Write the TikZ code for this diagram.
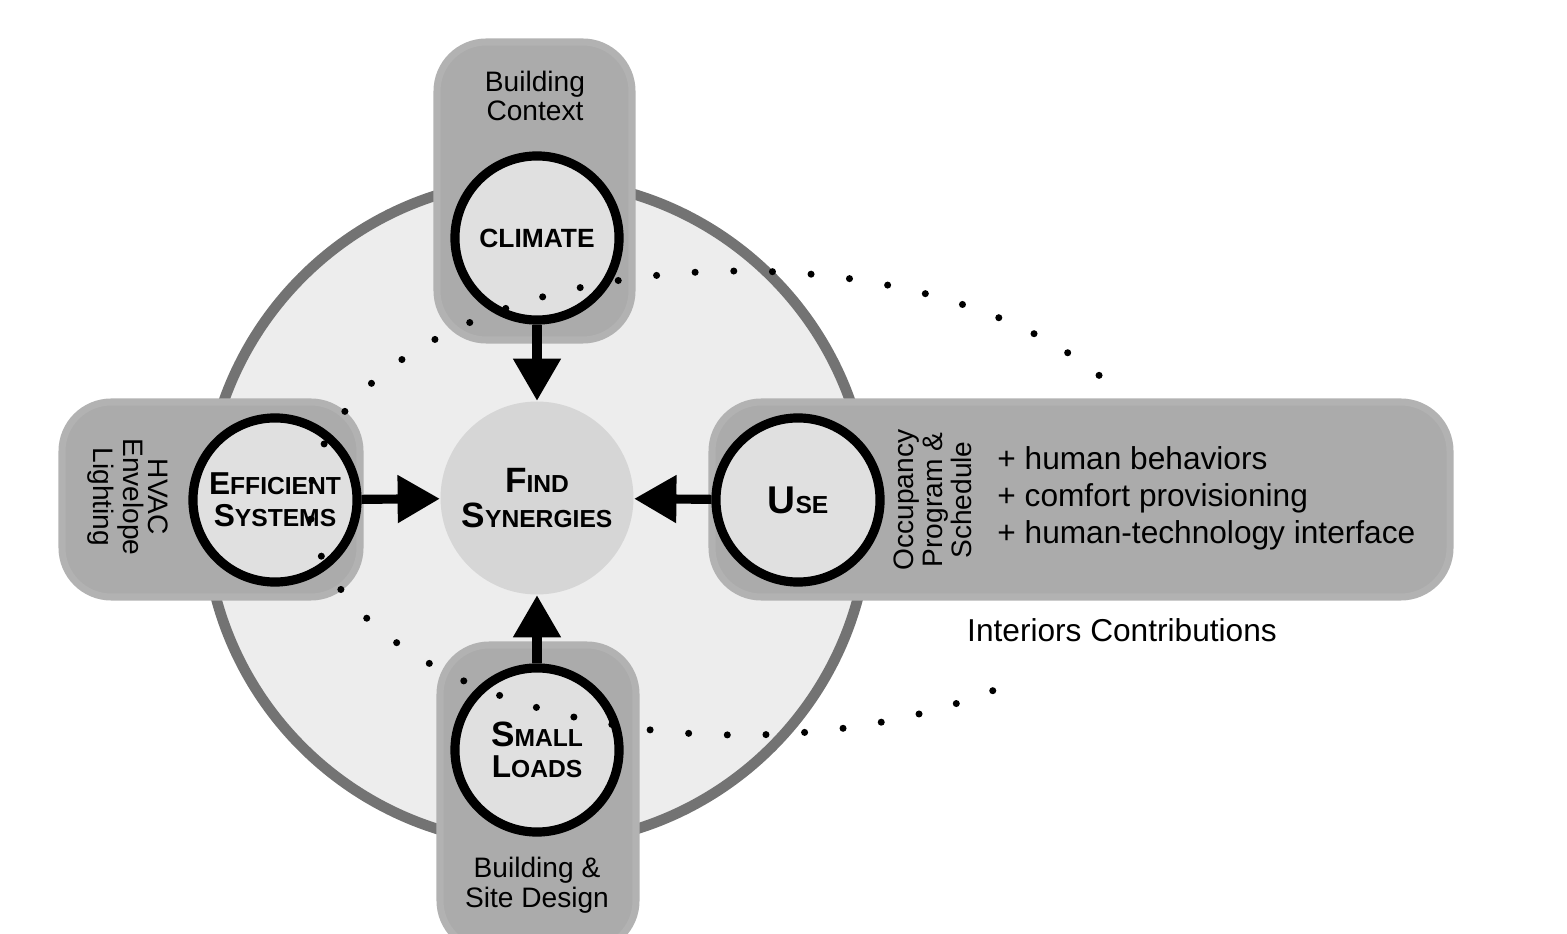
\documentclass[tikz,border=0pt]{standalone}
\usepackage{fontspec}
\setmainfont{Liberation Sans}
\usetikzlibrary{arrows.meta}
\newcommand{\fsc}[2]{#1{\fontsize{7}{7}\selectfont#2}}
\begin{document}
\begin{tikzpicture}[x=0.01cm, y=-0.01cm,
        panel/.style={draw=black!30, line width=2pt, fill=black!33, rounded corners=14pt},
        topic/.style={circle, draw=black, line width=2.6pt, fill=black!12, minimum size=1.64cm, inner sep=0pt, align=center, font=\fontsize{9}{9}\selectfont\bfseries},
        tag/.style={align=center, font=\fontsize{8}{7}\selectfont},
        flow/.style={-{Triangle[length=12pt, width=13pt]}, line width=2.6pt}
      ]
      \useasboundingbox (0,0) rectangle (1567,934);

      \node (ring) [circle, draw=black!55, line width=3pt, fill=black!7, minimum size=6.64cm] at (537,512) {};

      \draw[panel] (437,42) rectangle (632,340);
      \draw[panel] (62,402) rectangle (360,597);
      \draw[panel] (712,402) rectangle (1450,597);
      \draw[panel] (440,645) rectangle (636,950);

      \node (find) [circle, fill=black!16, minimum size=1.9cm, align=center, font=\fontsize{10}{10}\selectfont\bfseries] at (537,498) {\fsc{F}{IND}\\\fsc{S}{YNERGIES}};
      \node (climate) [topic, font=\fontsize{7.5}{8}\selectfont\bfseries] at (537,238) {CLIMATE};
      \node (eff) [topic] at (275,500) {\fsc{E}{FFICIENT}\\\fsc{S}{YSTEMS}};
      \node (use) [topic] at (798,500) {\fontsize{11}{11}\selectfont\fsc{U}{SE}};
      \node (loads) [topic] at (537,750) {\fontsize{10}{13}\selectfont\fsc{S}{MALL}\\\fsc{L}{OADS}};

      \node (ctx) [tag] at (535,96) {Building\\Context};
      \node (site) [tag] at (537,885) {Building \&\\Site Design};
      \node (hvac) [tag, rotate=-90] at (128,497) {HVAC\\Envelope\\Lighting};
      \node (occ) [tag, rotate=90] at (933,500) {Occupancy\\Program \&\\Schedule};
      \node (list) [anchor=west, align=left, font=\fontsize{9}{10.5}\selectfont] at (985,498) {+ human behaviors\\+ comfort provisioning\\+ human-technology interface};
      \node (ic) [font=\fontsize{9}{9}\selectfont] at (1122,630) {Interiors Contributions};

      \draw[flow] (climate) -- (find);
      \draw[flow] (eff) -- (find);
      \draw[flow] (use) -- (find);
      \draw[flow] (loads) -- (find);

      % dotted interiors loop
      \draw[line width=2pt, dash pattern=on 0pt off 11pt, line cap=round]
        (740,503) ++(54:430 and 232) arc[start angle=54, end angle=331, x radius=430, y radius=232];
    \end{tikzpicture}
\end{document}
